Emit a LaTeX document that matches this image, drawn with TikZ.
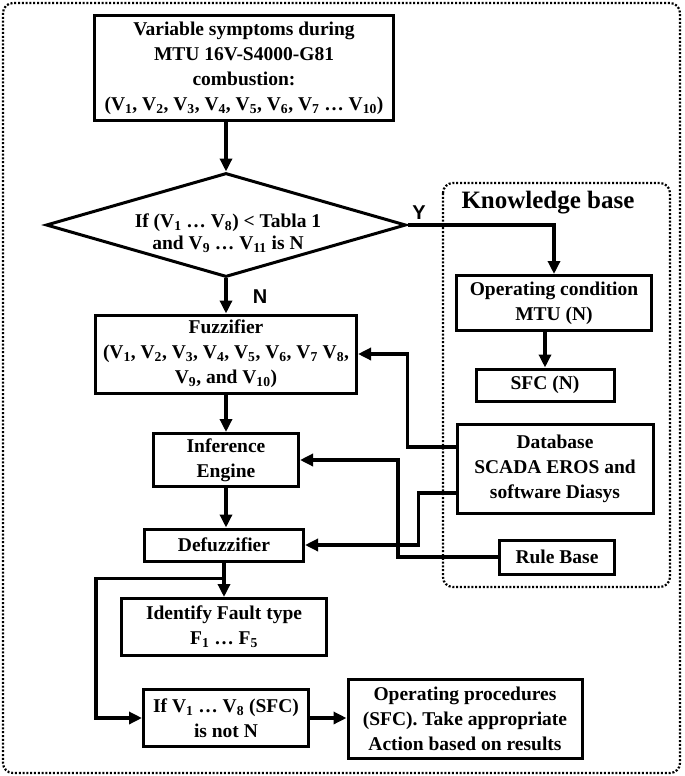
\documentclass[tikz,border=0pt]{standalone}
\usepackage{fontspec}
\setmainfont{Liberation Serif}
\setsansfont{Liberation Sans}
\usetikzlibrary{arrows.meta,shapes.geometric}

\newcommand{\Vs}[1]{V\textsubscript{#1}}

\tikzset{
  blk/.style={draw,line width=3pt,align=center,inner sep=0pt,font=\fontsize{19.5}{25}\selectfont\bfseries},
  dia/.style={draw,shape=diamond,line width=3pt,minimum width=360pt,minimum height=104pt,inner sep=0pt},
  txt/.style={align=center,inner sep=0pt,font=\fontsize{19.5}{25}\selectfont\bfseries},
  yn/.style={inner sep=0pt,font=\fontsize{20}{20}\selectfont\sffamily\bfseries},
  arr/.style={line width=3.5pt,-{Triangle[length=13pt,width=12pt]}},
  dotbox/.style={line width=2.2pt,dash pattern=on 2pt off 1.8pt,rounded corners=10pt}
}

\begin{document}
\begin{tikzpicture}[x=1pt,y={(0pt,-1pt)}]
		\useasboundingbox (0,0) rectangle (685,776);
		% frames
		\draw[dotbox] (3,3) rectangle (680,773);
		\draw[dotbox] (443,183) rectangle (670,587);
		\node[txt,font=\fontsize{25}{25}\selectfont\bfseries] (KB) at (548,203) {Knowledge base};
		% main column
		\node[blk,minimum width=299pt,minimum height=105pt] (S) at (244,68) {Variable symptoms during\\MTU 16V-S4000-G81\\combustion:\\(\Vs{1}, \Vs{2}, \Vs{3}, \Vs{4}, \Vs{5}, \Vs{6}, \Vs{7} … \Vs{10})};
		\node[dia] (D) at (226,225) {};
		\node[txt,font=\fontsize{19.5}{22}\selectfont\bfseries] (D') at (228,233) {If (\Vs{1} … \Vs{8}) < Tabla 1\\and \Vs{9} … \Vs{11} is N};
		\node[blk,minimum width=261pt,minimum height=78pt] (F) at (226,354) {Fuzzifier\\(\Vs{1}, \Vs{2}, \Vs{3}, \Vs{4}, \Vs{5}, \Vs{6}, \Vs{7} \Vs{8},\\\Vs{9}, and \Vs{10})};
		\node[blk,minimum width=145pt,minimum height=53pt] (I) at (226,460) {Inference\\Engine};
		\node[blk,minimum width=159pt,minimum height=32pt] (Df) at (224,545) {Defuzzifier};
		\node[blk,minimum width=205pt,minimum height=57pt] (Fa) at (224,627) {Identify Fault type\\F\textsubscript{1} … F\textsubscript{5}};
		\node[blk,minimum width=165pt,minimum height=57pt] (C) at (226,718) {If \Vs{1} … \Vs{8} (SFC)\\is not N};
		\node[blk,minimum width=234pt,minimum height=79pt] (P) at (465,719) {Operating procedures\\(SFC). Take appropriate\\Action based on results};
		% knowledge base
		\node[blk,minimum width=195pt,minimum height=55pt] (O) at (554,303) {Operating condition\\MTU (N)};
		\node[blk,minimum width=138pt,minimum height=32pt] (SF) at (545,385) {SFC (N)};
		\node[blk,minimum width=196pt,minimum height=89pt] (DB) at (555,469) {Database\\SCADA EROS and\\software Diasys};
		\node[blk,minimum width=115pt,minimum height=34pt] (R) at (557,557) {Rule Base};
		% decision labels
		\node[yn] (Y) at (419,213) {Y};
		\node[yn] (N) at (260,297) {N};
		%
		\path[arr]
		% vertical arrows
		(D.north |- S.south) edge (D)
		(D) edge (F)
		(F) edge (I)
		(I.south) edge (I.south |- Df.north)
		(Df.south) edge (Df.south |- Fa.north)
		% horizontal arrows
		(C) edge (C -| P.west)
		(O.south -| SF.north) edge (SF.north);
		% bent arrows
		\draw[arr] (D.east) -| (O.north);
		\draw[arr] ([yshift=22pt]DB.west) -- ++(-48,0) |- (F.east);
		\draw[arr] (R.west) -- ++(-100,0) |- (I.east);
		\draw[arr] ([yshift=-24pt]DB.west) -- ++(-37,0) |- (Df.east);
		\draw[arr] ([yshift=-16pt]Df.south) -- ++(-128,0) |- (C.west);
\end{tikzpicture}
\end{document}
